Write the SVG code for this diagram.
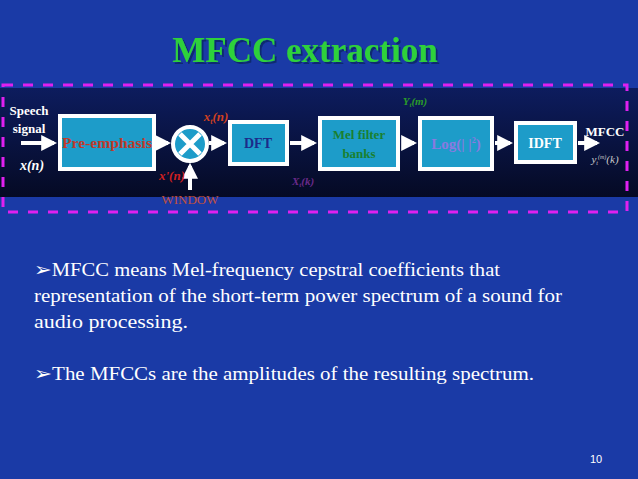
<svg xmlns="http://www.w3.org/2000/svg" width="638" height="479" viewBox="0 0 638 479">
<defs>
<linearGradient id="band" x1="0" y1="0" x2="0" y2="1"><stop offset="0" stop-color="#0d1c5e"/><stop offset="1" stop-color="#050a24"/></linearGradient>
<marker id="ah" markerWidth="4" markerHeight="4" refX="3.2" refY="2" orient="auto" markerUnits="strokeWidth"><path d="M0,0 L4,2 L0,4 z" fill="#fff"/></marker>
<filter id="sh"><feDropShadow dx="2" dy="2" stdDeviation="0.5" flood-color="#0c2a70"/></filter>
</defs>
<style>
.box{fill:#1d9cc9;stroke:#fff;stroke-width:4}
.t{font-family:"Liberation Serif",serif;font-weight:bold}
.c{stroke:#fff;stroke-width:4;fill:none;marker-end:url(#ah)}
.b{font-family:"Liberation Serif",serif;font-size:18.5px;fill:#fff}
</style>
<rect width="638" height="479" fill="#1a3aa6"/>
<rect x="0" y="88" width="638" height="109" fill="url(#band)"/>
<text x="305" y="62" text-anchor="middle" class="t" font-size="35" fill="#2fd13a" filter="url(#sh)">MFCC extraction</text>
<rect x="3" y="85" width="624" height="127" fill="none" stroke="#e020f0" stroke-width="3" stroke-dasharray="10,10"/>
<g id="connectors">
<line x1="21" y1="143" x2="54" y2="143" class="c"/>
<line x1="157" y1="143" x2="168" y2="143" class="c"/>
<line x1="209" y1="143" x2="224" y2="143" class="c"/>
<line x1="190" y1="190" x2="190" y2="166" class="c"/>
<line x1="290" y1="143" x2="314" y2="143" class="c"/>
<line x1="402" y1="143" x2="414" y2="143" class="c"/>
<line x1="495" y1="143" x2="510" y2="143" class="c"/>
<line x1="578" y1="143" x2="597" y2="143" class="c"/>
</g>
<g id="input">
<text x="29" y="115" text-anchor="middle" class="t" font-size="13" fill="#fff">Speech</text>
<text x="29" y="133" text-anchor="middle" class="t" font-size="13" fill="#fff">signal</text>
<text x="32" y="170" text-anchor="middle" class="t" font-size="14" font-style="italic" fill="#fff">x(n)</text>
</g>
<g id="pre"><rect x="60" y="116" width="94" height="53" class="box"/><text x="107" y="148" text-anchor="middle" class="t" font-size="14" fill="#c0392b" textLength="90" lengthAdjust="spacingAndGlyphs">Pre-emphasis</text></g>
<g id="mult"><circle cx="190" cy="144" r="17" fill="#1d9cc9" stroke="#fff" stroke-width="4"/><path d="M180,134 L200,154 M200,134 L180,154" stroke="#fff" stroke-width="5"/>
<text x="216" y="121" text-anchor="middle" class="t" font-size="13" font-style="italic" fill="#d04020">x<tspan font-size="8" dy="3">t</tspan><tspan dy="-3">(n)</tspan></text>
<text x="172" y="180" text-anchor="middle" class="t" font-size="13" font-style="italic" fill="#d02020">x'(n)</text>
<text x="190" y="204" text-anchor="middle" font-family="Liberation Serif,serif" font-size="13" fill="#c05040">WINDOW</text></g>
<g id="dft"><rect x="230" y="122" width="57" height="42" class="box"/><text x="258" y="148" text-anchor="middle" class="t" font-size="14" fill="#1c2a8a">DFT</text></g>
<text x="303" y="185" text-anchor="middle" class="t" font-size="11" font-style="italic" fill="#6a2a8a">X<tspan font-size="7" dy="2">t</tspan><tspan dy="-2">(k)</tspan></text>
<g id="mel"><rect x="320" y="118" width="78" height="51" class="box"/><text x="359" y="139" text-anchor="middle" class="t" font-size="13" fill="#1a8030">Mel filter</text><text x="359" y="158" text-anchor="middle" class="t" font-size="13" fill="#1a8030">banks</text></g>
<text x="415" y="105" text-anchor="middle" class="t" font-size="11" font-style="italic" fill="#2a9a2a">Y<tspan font-size="7" dy="2">t</tspan><tspan dy="-2">(m)</tspan></text>
<g id="log"><rect x="420" y="118" width="72" height="51" class="box"/><text x="456" y="149" text-anchor="middle" class="t" font-size="15" fill="#8a7ae0">Log(| |<tspan font-size="8" dy="-6">2</tspan><tspan dy="6">)</tspan></text></g>
<g id="idft"><rect x="516" y="123" width="59" height="39" class="box"/><text x="545" y="148" text-anchor="middle" class="t" font-size="14" fill="#fff">IDFT</text></g>
<g id="out"><text x="605" y="136" text-anchor="middle" class="t" font-size="13" fill="#fff">MFCC</text>
<text x="605" y="163" text-anchor="middle" font-family="Liberation Serif,serif" font-size="11" font-style="italic" fill="#ccc">y<tspan font-size="6" dy="2">t</tspan><tspan font-size="6" dy="-6">(m)</tspan><tspan dy="4">(k)</tspan></text></g>
<text x="34" y="276" class="b" textLength="466" lengthAdjust="spacingAndGlyphs">➢MFCC means Mel-frequency cepstral coefficients that</text>
<text x="34" y="302" class="b" textLength="528" lengthAdjust="spacingAndGlyphs">representation of the short-term power spectrum of a sound for</text>
<text x="34" y="328" class="b" textLength="154" lengthAdjust="spacingAndGlyphs">audio processing.</text>
<text x="34" y="380" class="b" textLength="500" lengthAdjust="spacingAndGlyphs">➢The MFCCs are the amplitudes of the resulting spectrum.</text>
<text x="596" y="463" text-anchor="middle" font-family="Liberation Sans,sans-serif" font-size="11" fill="#fff">10</text>
</svg>
